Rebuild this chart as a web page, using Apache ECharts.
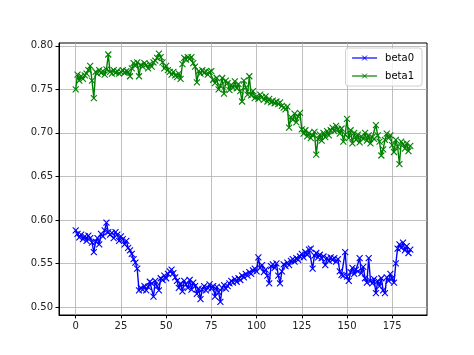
<!DOCTYPE html>
<html>
<head>
<meta charset="utf-8">
<script src="https://cdn.jsdelivr.net/npm/echarts@6/dist/echarts.min.js"></script>
<style>
    html, body { margin: 0; padding: 0; background: #fff; }
    .chart { width: 474px; height: 355px; }
</style>
</head>
<body>
<div class="chart"></div>
<script>
var seriesNames = ['beta0', 'beta1'];
var xTicks = [0, 25, 50, 75, 100, 125, 150, 175];
var yTicks = [0.50, 0.55, 0.60, 0.65, 0.70, 0.75, 0.80];

var beta0 = [
    0.588, 0.584, 0.580, 0.583, 0.578, 0.581, 0.576, 0.582, 0.579, 0.574,
    0.563, 0.575, 0.579, 0.572, 0.584, 0.581, 0.588, 0.597, 0.586, 0.583,
    0.585, 0.579, 0.586, 0.583, 0.576, 0.581, 0.578, 0.572, 0.576, 0.568,
    0.565, 0.561, 0.555, 0.551, 0.544, 0.519, 0.522, 0.520, 0.524, 0.519,
    0.523, 0.529, 0.527, 0.512, 0.530, 0.524, 0.519, 0.533, 0.531, 0.536,
    0.533, 0.538, 0.541, 0.543, 0.539, 0.534, 0.530, 0.522, 0.527, 0.518,
    0.530, 0.526, 0.522, 0.531, 0.520, 0.528, 0.524, 0.515, 0.521, 0.509,
    0.520, 0.524, 0.519, 0.522, 0.526, 0.521, 0.524, 0.512, 0.523, 0.517,
    0.506, 0.522, 0.525, 0.521, 0.524, 0.527, 0.530, 0.528, 0.532, 0.529,
    0.533, 0.531, 0.536, 0.534, 0.538, 0.536, 0.540, 0.538, 0.542, 0.544,
    0.541, 0.557, 0.545, 0.548, 0.540, 0.543, 0.536, 0.527, 0.547, 0.549,
    0.545, 0.550, 0.536, 0.527, 0.541, 0.549, 0.547, 0.551, 0.548, 0.553,
    0.555, 0.552, 0.556, 0.554, 0.558, 0.561, 0.557, 0.563, 0.560, 0.566,
    0.567, 0.544, 0.559, 0.562, 0.557, 0.560, 0.556, 0.558, 0.548, 0.556,
    0.553, 0.557, 0.554, 0.556, 0.552, 0.555, 0.541, 0.537, 0.536, 0.563,
    0.535, 0.530, 0.540, 0.545, 0.538, 0.543, 0.541, 0.556, 0.539, 0.546,
    0.533, 0.528, 0.556, 0.530, 0.527, 0.532, 0.516, 0.530, 0.524, 0.533,
    0.519, 0.516, 0.534, 0.530, 0.538, 0.533, 0.528, 0.550, 0.567, 0.572,
    0.568, 0.574, 0.565, 0.570, 0.562, 0.566
];

var beta1 = [
    0.750, 0.767, 0.760, 0.765, 0.762, 0.766, 0.768, 0.772, 0.777, 0.760,
    0.740, 0.770, 0.768, 0.772, 0.769, 0.771, 0.767, 0.773, 0.790, 0.770,
    0.768, 0.772, 0.769, 0.771, 0.768, 0.770, 0.772, 0.769, 0.771, 0.770,
    0.765, 0.774, 0.780, 0.777, 0.781, 0.765, 0.778, 0.776, 0.780, 0.778,
    0.774, 0.779, 0.776, 0.781, 0.783, 0.786, 0.791, 0.787, 0.781, 0.774,
    0.777, 0.772, 0.770, 0.767, 0.770, 0.766, 0.764, 0.768, 0.762, 0.779,
    0.786, 0.784, 0.787, 0.785, 0.787, 0.780, 0.776, 0.758, 0.771, 0.768,
    0.772, 0.769, 0.771, 0.767, 0.770, 0.771, 0.761, 0.757, 0.763, 0.750,
    0.754, 0.763, 0.745, 0.760, 0.757, 0.749, 0.755, 0.752, 0.759, 0.751,
    0.756, 0.748, 0.736, 0.760, 0.752, 0.744, 0.765, 0.743, 0.748, 0.740,
    0.742, 0.739, 0.744, 0.741, 0.738, 0.742, 0.736, 0.739, 0.735, 0.737,
    0.734, 0.736, 0.733, 0.735, 0.731, 0.729, 0.727, 0.730, 0.706, 0.718,
    0.715, 0.722, 0.712, 0.719, 0.723, 0.704, 0.699, 0.703, 0.696, 0.700,
    0.694, 0.697, 0.701, 0.675, 0.693, 0.698, 0.691, 0.700, 0.695, 0.702,
    0.697, 0.703, 0.706, 0.702, 0.708, 0.704, 0.699, 0.705, 0.690, 0.698,
    0.716, 0.694, 0.703, 0.688, 0.700, 0.692, 0.698, 0.689, 0.696, 0.693,
    0.700, 0.691, 0.697, 0.688, 0.695, 0.693, 0.709, 0.697, 0.690, 0.674,
    0.681, 0.692, 0.699, 0.694, 0.697, 0.686, 0.678, 0.692, 0.684, 0.664,
    0.690, 0.687, 0.682, 0.688, 0.679, 0.685
];

(function () {
    var myChart = echarts.init(document.querySelector('.chart'), null, { renderer: 'canvas' });
    var cross = 'path://M0,0L10,10M10,0L0,10';

    function pairs(arr) {
        var out = [];
        for (var i = 0; i < arr.length; i++) {
            out.push([i, arr[i]]);
        }
        return out;
    }

    function lineSeries(name, data, color) {
        return {
            name: name,
            type: 'line',
            data: pairs(data),
            symbol: cross,
            symbolSize: 6,
            showAllSymbol: true,
            lineStyle: { color: color, width: 1.4 },
            itemStyle: { color: color, borderColor: color, borderWidth: 1.1 },
            emphasis: { disabled: true },
            z: 3
        };
    }

    var option = {
        animation: false,
        textStyle: { fontFamily: 'DejaVu Sans' },
        grid: {
            left: 59,
            right: 47,
            top: 43,
            bottom: 40,
            show: true,
            borderColor: '#000',
            borderWidth: 1,
            backgroundColor: '#fff'
        },
        legend: {
            data: seriesNames,
            orient: 'vertical',
            right: 52,
            top: 48,
            itemWidth: 25,
            itemHeight: 6,
            itemGap: 8,
            padding: [5, 8, 5, 6],
            borderColor: '#d0d0d0',
            borderWidth: 1,
            borderRadius: 3,
            backgroundColor: 'rgba(255,255,255,0.8)',
            lineStyle: { width: 1.2 },
            itemStyle: { borderWidth: 1 },
            textStyle: { color: '#000', fontSize: 10, fontFamily: 'DejaVu Sans', padding: [0, 0, 0, 3] }
        },
        xAxis: {
            type: 'value',
            min: -9.25,
            max: 194.25,
            axisLine: { show: true, onZero: false, lineStyle: { color: '#000', width: 1 } },
            axisTick: { show: true, length: 3.5, customValues: xTicks, lineStyle: { color: '#000' } },
            axisLabel: { customValues: xTicks, color: '#222', fontSize: 10, margin: 6 },
            splitLine: { show: true, lineStyle: { color: '#b0b0b0', width: 0.8 } }
        },
        yAxis: {
            type: 'value',
            min: 0.4908,
            max: 0.8032,
            axisLine: { show: true, onZero: false, lineStyle: { color: '#000', width: 1 } },
            axisTick: { show: true, length: 3.5, customValues: yTicks, lineStyle: { color: '#000' } },
            axisLabel: {
                customValues: yTicks,
                color: '#222',
                fontSize: 10,
                margin: 6,
                formatter: function (v) { return v.toFixed(2); }
            },
            splitLine: { show: true, lineStyle: { color: '#b0b0b0', width: 0.8 } }
        },
        series: [
            lineSeries(seriesNames[0], beta0, '#0000ff'),
            lineSeries(seriesNames[1], beta1, '#008000')
        ]
    };
    myChart.setOption(option);
})();
</script>
</body>
</html>
